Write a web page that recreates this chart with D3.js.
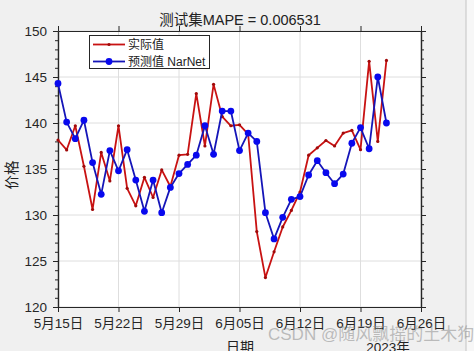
<!DOCTYPE html>
<html>
<head>
<meta charset="utf-8">
<script src="https://cdn.jsdelivr.net/npm/d3@7"></script>
<style>
  html, body { margin: 0; padding: 0; background: #f0f0f0; }
  svg { display: block; }
  text { font-family: "Liberation Sans", Arial, "Noto Sans CJK SC", sans-serif; }
</style>
</head>
<body>
<svg id="chart" width="474" height="351"></svg>
<script>
// ---- data ----
const startDate = new Date(2023, 4, 15);
const endDate = new Date(2023, 5, 23); // exclusive
const actualValues = [138.15, 137.07, 139.7, 135.3, 130.6, 136.8, 133.7, 139.7, 132.9, 131.0,
  134.1, 131.9, 134.9, 133.1, 136.5, 136.6, 143.2, 137.5, 144.2, 140.7,
  139.7, 139.8, 138.8, 128.2, 123.2, 126.0, 128.7, 130.5, 132.5, 136.5,
  137.3, 138.1, 137.5, 138.9, 139.2, 137.1, 146.7, 138.0, 146.8];
const predictedValues = [144.3, 140.1, 138.3, 140.3, 135.7, 132.25, 137.0, 134.8, 137.1, 133.8,
  130.4, 133.8, 130.25, 133.0, 134.5, 135.5, 136.5, 139.7, 136.6, 141.3,
  141.3, 137.0, 138.9, 138.0, 130.25, 127.4, 129.75, 131.7, 132.0, 134.35,
  135.9, 134.6, 133.4, 134.45, 137.8, 139.5, 137.2, 145.0, 140.0];
const xTickDates = ["2023-05-15", "2023-05-22", "2023-05-29", "2023-06-05", "2023-06-12", "2023-06-19", "2023-06-26"];
const xTickLabels = ["5月15日", "5月22日", "5月29日", "6月05日", "6月12日", "6月19日", "6月26日"];
const yTicks = [120, 125, 130, 135, 140, 145, 150];
const seriesNames = ["实际值", "预测值 NarNet"];
const titleText = "测试集MAPE = 0.006531";

// ---- setup ----
const svg = d3.select("#chart");
const W = 474, H = 351;
const L = 58, R = 421, T = 31, B = 307;
const parse = d3.timeParse("%Y-%m-%d");
const dates = d3.timeDay.range(startDate, endDate);
const tickDates = xTickDates.map(parse);

const x = d3.scaleTime().domain([parse("2023-05-15"), parse("2023-06-26")]).range([L, R]);
const y = d3.scaleLinear().domain([120, 150]).range([B, T]);

svg.append("rect").attr("width", W).attr("height", H).attr("fill", "#f0f0f0");
// right window strip
svg.append("rect").attr("x", 466).attr("y", 0).attr("width", 8).attr("height", H).attr("fill", "#f7f7f7");
svg.append("line").attr("x1", 466).attr("x2", 466).attr("y1", 0).attr("y2", H).attr("stroke", "#c4c4c4");

// plot area
svg.append("rect").attr("x", L).attr("y", T).attr("width", R - L).attr("height", B - T).attr("fill", "#fff");

// grid
const grid = svg.append("g").attr("stroke", "#dedede").attr("stroke-width", 1);
tickDates.forEach(d => grid.append("line").attr("x1", x(d)).attr("x2", x(d)).attr("y1", T).attr("y2", B));
yTicks.forEach(v => grid.append("line").attr("x1", L).attr("x2", R).attr("y1", y(v)).attr("y2", y(v)));

// axes
const axisColor = "#262626";
function styleAxis(g) {
  g.selectAll("path.domain").attr("stroke", axisColor).attr("stroke-width", 1.2);
  g.selectAll(".tick line").attr("stroke", axisColor).attr("stroke-width", 1);
  g.selectAll(".tick text").attr("fill", "#262626").style("font-size", "13.5px")
    .style("font-family", '"Liberation Sans", Arial, "Noto Sans CJK SC", sans-serif');
}
const minorY = d3.range(120, 151, 1);

svg.append("g").attr("transform", `translate(0,${B})`)
  .call(d3.axisBottom(x).tickValues(tickDates).tickFormat((d, i) => xTickLabels[i]).tickSize(5).tickSizeOuter(0).tickPadding(6))
  .call(styleAxis);
svg.append("g").attr("transform", `translate(0,${T})`)
  .call(d3.axisTop(x).tickValues(tickDates).tickFormat("").tickSize(5).tickSizeOuter(0))
  .call(styleAxis);
svg.append("g").attr("transform", `translate(${L},0)`)
  .call(d3.axisLeft(y).tickValues(minorY).tickFormat("").tickSize(3).tickSizeOuter(0))
  .call(styleAxis);
svg.append("g").attr("transform", `translate(${L},0)`)
  .call(d3.axisLeft(y).tickValues(yTicks).tickFormat(d3.format("d")).tickSize(5).tickSizeOuter(0).tickPadding(6))
  .call(styleAxis);
svg.append("g").attr("transform", `translate(${R},0)`)
  .call(d3.axisRight(y).tickValues(minorY).tickFormat("").tickSize(3).tickSizeOuter(0))
  .call(styleAxis);
svg.append("g").attr("transform", `translate(${R},0)`)
  .call(d3.axisRight(y).tickValues(yTicks).tickFormat("").tickSize(5).tickSizeOuter(0))
  .call(styleAxis);

// series
const redLine = "#c81212", redDot = "#a00a0a";
const blueLine = "#1515b8", blueDot = "#0808ee";
const line = d3.line().x(d => x(d[0])).y(d => y(d[1]));
const actual = dates.map((d, i) => [d, actualValues[i]]);
const predicted = dates.map((d, i) => [d, predictedValues[i]]);

svg.append("path").datum(actual).attr("d", line).attr("fill", "none")
  .attr("stroke", redLine).attr("stroke-width", 1.8).attr("stroke-linejoin", "round");
svg.append("g").selectAll("circle").data(actual).join("circle")
  .attr("cx", d => x(d[0])).attr("cy", d => y(d[1])).attr("r", 1.6).attr("fill", redDot);

svg.append("path").datum(predicted).attr("d", line).attr("fill", "none")
  .attr("stroke", blueLine).attr("stroke-width", 1.8).attr("stroke-linejoin", "round");
svg.append("g").selectAll("circle").data(predicted).join("circle")
  .attr("cx", d => x(d[0])).attr("cy", d => y(d[1])).attr("r", 3.4).attr("fill", blueDot);

// legend
const lg = svg.append("g");
lg.append("rect").attr("x", 89.5).attr("y", 35.5).attr("width", 120).attr("height", 33)
  .attr("fill", "#fff").attr("stroke", "#262626").attr("stroke-width", 1);
lg.append("line").attr("x1", 93).attr("x2", 125).attr("y1", 44.5).attr("y2", 44.5).attr("stroke", redLine).attr("stroke-width", 1.8);
lg.append("circle").attr("cx", 109).attr("cy", 44.5).attr("r", 1.6).attr("fill", redDot);
lg.append("line").attr("x1", 93).attr("x2", 125).attr("y1", 61.5).attr("y2", 61.5).attr("stroke", blueLine).attr("stroke-width", 1.8);
lg.append("circle").attr("cx", 109).attr("cy", 61.5).attr("r", 3.4).attr("fill", blueDot);
lg.append("text").attr("x", 128).attr("y", 49).style("font-size", "12px").attr("fill", "#222").text(seriesNames[0]);
lg.append("text").attr("x", 128).attr("y", 66).style("font-size", "12px").attr("fill", "#222").text(seriesNames[1]);

// title and labels
svg.append("text").attr("x", 240).attr("y", 25).attr("text-anchor", "middle")
  .style("font-size", "14.5px").attr("fill", "#222").text(titleText);
svg.append("text").attr("transform", "translate(17,175) rotate(-90)").attr("text-anchor", "middle")
  .style("font-size", "14.5px").attr("fill", "#222").text("价格");
svg.append("text").attr("x", 240).attr("y", 352).attr("text-anchor", "middle")
  .style("font-size", "14px").attr("fill", "#222").text("日期");
svg.append("text").attr("x", 388).attr("y", 352).attr("text-anchor", "middle")
  .style("font-size", "13.5px").attr("fill", "#222").text("2023年");

// watermark
svg.append("text").attr("x", 268).attr("y", 340)
  .style("font-size", "17px").attr("fill", "rgba(140,140,140,0.55)").text("CSDN @随风飘摇的土木狗");
</script>
</body>
</html>
